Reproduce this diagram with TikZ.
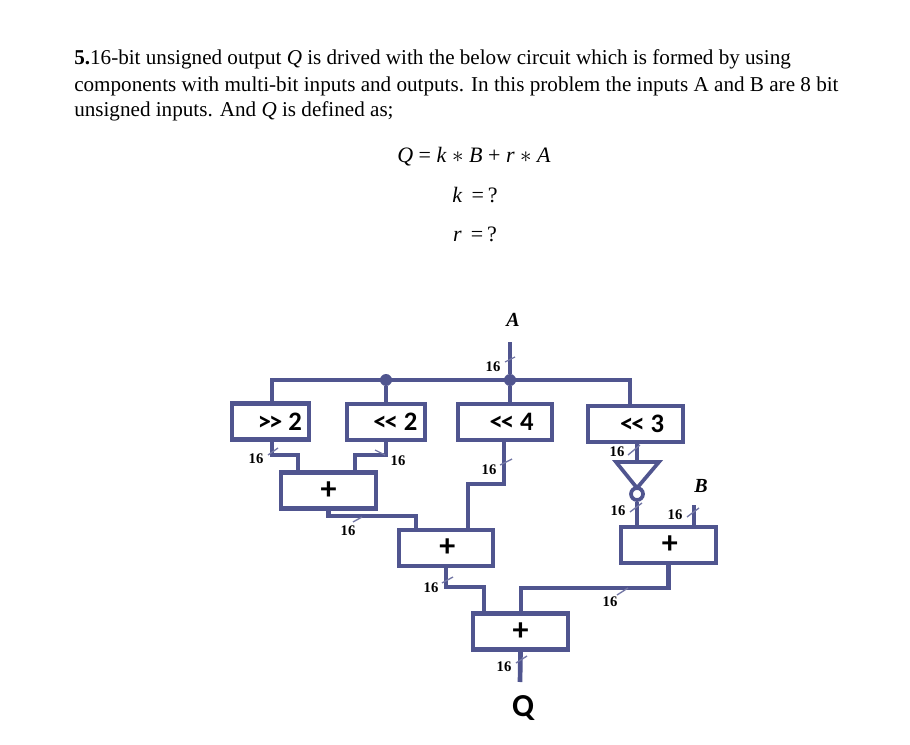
\documentclass[tikz,border=0pt]{standalone}
\usepackage{amsmath}
\usepackage{fontspec}
\setmainfont{Liberation Serif}
\newfontfamily\boxfont{Carlito}
\usepackage{tikz}
\usetikzlibrary{calc,shapes.geometric}
\definecolor{wirecol}{RGB}{80,85,143}
\newcommand{\bustick}[2]{\draw[tick line](#1)--++(#2);}

\begin{document}
\begin{tikzpicture}
[x=0.75pt,y=-0.75pt]
\tikzstyle{wire}=[draw=wirecol,line width=3.5pt,line join=miter]
\tikzstyle{tick line}=[draw=wirecol!80,line width=1pt]
\tikzstyle{block}=[rectangle,draw=wirecol,line width=3.2pt,inner sep=0,minimum width=71pt,minimum height=27pt,font=\boxfont\bfseries\fontsize{20}{20}\selectfont]
\tikzstyle{short block}=[block,minimum width=58pt]
\tikzstyle{adder}=[block,font=\boxfont\bfseries\fontsize{24}{24}\selectfont]
\tikzstyle{buswidth}=[inner sep=0,font=\bfseries\fontsize{11}{11}\selectfont]
\tikzstyle{para}=[inner sep=0,anchor=base west,font=\fontsize{15.85}{15.85}\selectfont]
\tikzstyle{eqn}=[inner sep=0,anchor=base,font=\fontsize{16.5}{16.5}\selectfont]
\tikzstyle{busdot}=[circle,fill=wirecol,inner sep=0,minimum size=9pt]
\tikzstyle{port}=[inner sep=0,font=\bfseries\itshape\fontsize{15}{15}\selectfont]

\useasboundingbox(0,0)rectangle(910,745);

\node(line1)[para]at(74,65){\textbf{5.}16-bit unsigned output \textit{Q} is drived with the below circuit which is formed by using};
\node(line2)[para]at(74,92){components with multi-bit inputs and outputs. In this problem the inputs A and B are 8 bit};
\node(line3)[para]at(74,117){unsigned inputs. And \textit{Q} is defined as;};
\node(eq1)[eqn]at(474,163){\textit{Q} = \textit{k} $*$ \textit{B} + \textit{r} $*$ \textit{A}};
\node(eq2)[eqn]at(475,203){\textit{k}\, =\,?};
\node(eq3)[eqn]at(475,242){\textit{r}\, =\,?};

% shifters
\node(shr2)[short block]at(270.5,421.5){\hspace*{14pt}>\kern-1.5pt> 2};
\node(shl2)[short block]at(386,422){\hspace*{14pt}<\kern-1.5pt< 2};
\node(shl4)[block]at(505,422){\hspace*{10pt}<\kern-1.5pt< 4};
\node(shl3)[block]at(635.5,424){\hspace*{10pt}<\kern-1.5pt< 3};

% adders
\node(add1)[adder]at(328.5,490.5){+};
\node(add2)[adder]at(446,548){\hspace*{2pt}+};
\node(add3)[adder]at(668.5,545){\hspace*{2pt}+};
\node(add4)[adder]at(520.5,631.5){+};

% inverter
\coordinate(invL)at(616,462);
\coordinate(invR)at(659,462);
\coordinate(invT)at(637,488);
\draw[wire,line width=2.8pt](invL)--(invR)--(invT)--cycle;
\node(bubble)[circle,draw=wirecol,fill=white,line width=2.8pt,inner sep=0,minimum size=9pt]at(637,494){};

% junctions and free ends
\coordinate(inA)at(510,342);
\coordinate(inB)at(694,505);
\coordinate(outQ)at(520,682);
\node(dotL)[busdot]at(386,380){};
\node(dotR)[busdot]at(510,380){};
\coordinate(busL)at(272,380);
\coordinate(busR)at(630,380);

\draw[wire](inA)--(dotR);
\draw[wire](shr2.north-|busL)--(busL)--(dotL.center)--(dotR.center)--(busR)--(shl3.north-|busR);
\draw[wire](dotL)--(shl2.north);
\draw[wire](dotR)--(shl4.north-|dotR);

\coordinate(a1L)at(298,455);
\coordinate(a1R)at(355,455);
\draw[wire](shr2.south-|busL)--(busL|-a1L)--(a1L)--(a1L|-add1.north);
\draw[wire](shl2.south)--(shl2.south|-a1R)--(a1R)--(a1R|-add1.north);

\coordinate(a2L)at(416,516);
\coordinate(a2R)at(468,484);
\coordinate(s4out)at(504,441);
\draw[wire](add1.south)--(add1.south|-a2L)--(a2L)--(a2L|-add2.north);
\draw[wire](s4out)--(s4out|-a2R)--(a2R)--(a2R|-add2.north);

\draw[wire](shl3.south-|invT)--(invT|-invL);
\draw[wire](bubble)--(bubble|-add3.north);
\draw[wire](inB)--(inB|-add3.north);

\coordinate(a4L)at(484,587);
\coordinate(a4R)at(521,588);
\draw[wire](add2.south)--(add2.south|-a4L)--(a4L)--(a4L|-add4.north);
\draw[wire](add3.south)--(add3.south|-a4R)--(a4R)--(a4R|-add4.north);
\draw[wire](add4.south)--(outQ);

% bus ticks
\bustick{505,362}{10,-5}
\bustick{268,455}{10,-7}
\bustick{375,450}{10,5}
\bustick{353,522}{9,-5}
\bustick{500,465}{12,-6}
\bustick{628,455}{12,-10}
\bustick{630,512}{12,-9}
\bustick{687,517}{12,-9}
\bustick{442,583}{11,-6}
\bustick{617,595}{11,-7}
\bustick{516,663}{11,-7}

% widths
\node(wA)[buswidth]at(493,367){16};
\node(wshr)[buswidth]at(256,459){16};
\node(wshl)[buswidth]at(398,461){16};
\node(wadd1)[buswidth]at(348,531){16};
\node(wshl4)[buswidth]at(489,470){16};
\node(wshl3)[buswidth]at(617,452){16};
\node(winv)[buswidth]at(618,511){16};
\node(wB)[buswidth]at(675,515){16};
\node(wadd2)[buswidth]at(431,588){16};
\node(wadd3)[buswidth]at(610,602){16};
\node(wadd4)[buswidth]at(504,667){16};

% terminals
\node(labA)[port]at(513,320){A};
\node(labB)[port]at(701,486){B};
\node(labQ)[inner sep=0,font=\boxfont\bfseries\fontsize{24}{24}\selectfont]at(523,708){Q};
\end{tikzpicture}
\end{document}
